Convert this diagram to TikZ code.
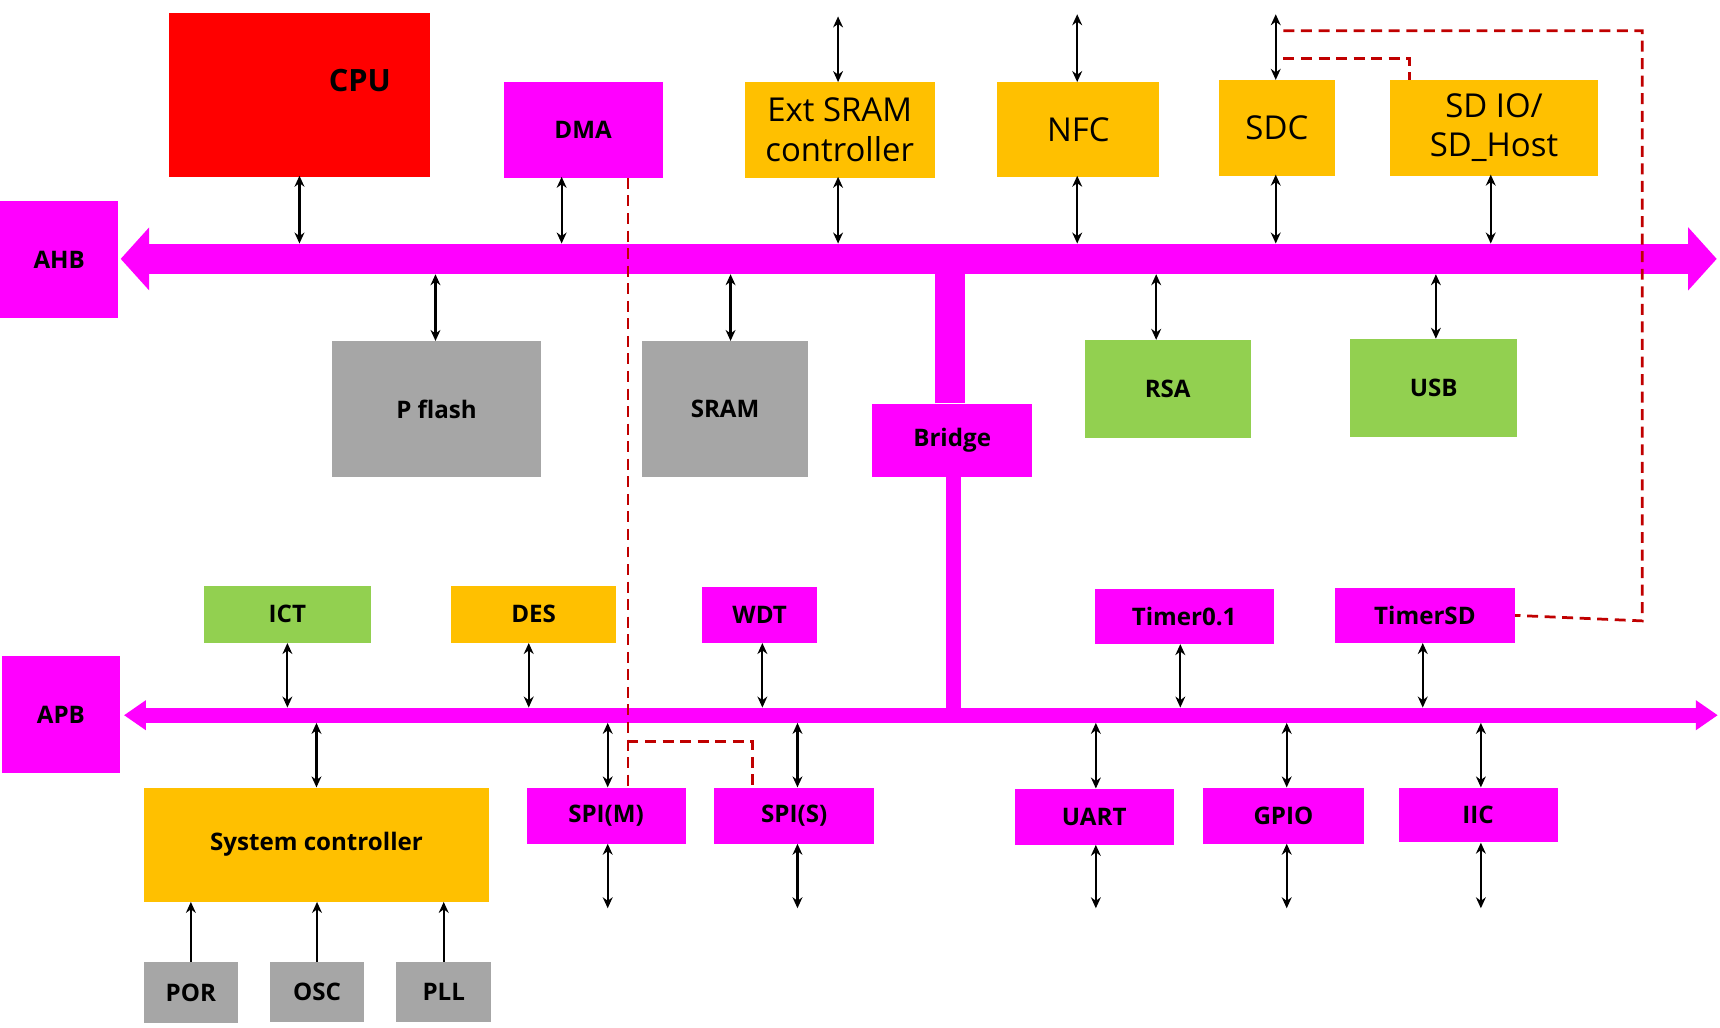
\documentclass[tikz,border=0pt]{standalone}
\usepackage{fontspec}
\setmainfont{Open Sans}
\usetikzlibrary{arrows.meta}
\definecolor{colorbus}   {RGB}{255,0,255}
\definecolor{colorctrl}  {RGB}{255,192,0}
\definecolor{colorperi}  {RGB}{146,208,80}
\definecolor{colormem}   {RGB}{166,166,166}
\definecolor{colorcpu}   {RGB}{255,0,0}
\definecolor{colordash}  {RGB}{192,0,0}
\begin{document}
\begin{tikzpicture}[
    x=1pt, y=-1pt,
    base/.style={inner sep=0pt,align=center,rectangle,font={\fontsize{22}{26}\selectfont\bfseries}},
    thin/.style={base,font={\fontsize{30}{36}\selectfont}},
    io/.style={{Stealth[length=10pt,width=9pt]}-{Stealth[length=10pt,width=9pt]},line width=2pt},
    feed/.style={-{Stealth[length=10pt,width=9pt]},line width=2pt},
    ahbbus/.style={{Triangle[width=56pt,length=26pt]}-{Triangle[width=56pt,length=26pt]},line width=28pt,colorbus},
    apbbus/.style={{Triangle[width=26pt,length=20pt]}-{Triangle[width=26pt,length=20pt]},line width=14pt,colorbus},
    sig/.style={colordash,line width=2.5pt,dash pattern=on 10pt off 6pt},
]
    \useasboundingbox (0,0) rectangle (1568,937);

    % Buses
    \coordinate (ahbl) at (110,236);
    \coordinate (ahbr) at (1565,236);
    \coordinate (ahbt) at (0,222);
    \coordinate (ahbb) at (0,250);
    \coordinate (apbl) at (113,652);
    \coordinate (apbr) at (1566,652);
    \coordinate (apbt) at (0,645);
    \coordinate (apbb) at (0,659);
    \draw[ahbbus] (ahbl) -- (ahbr);
    \draw[apbbus] (apbl) -- (apbr);
    \node[base,fill=colorbus,minimum width=108,minimum height=107] (ahb) at (54,236.5) {AHB};
    \node[base,fill=colorbus,minimum width=107,minimum height=107] (apb) at (55.5,651.5) {APB};

    % AHB masters and slaves
    \node[base,fill=colorcpu,minimum width=238,minimum height=149] (cpu) at (273,86.5) {};
    \node[base,font={\fontsize{28}{32}\selectfont\bfseries}] (cputext) at (328,73) {CPU};
    \node[base,fill=colorbus,minimum width=145,minimum height=87] (dma) at (531.5,118.5) {DMA};
    \node[thin,fill=colorctrl,minimum width=173,minimum height=87] (extsram) at (765.5,118.5) {Ext SRAM\\controller};
    \node[thin,fill=colorctrl,minimum width=148,minimum height=86] (nfc) at (983,118) {NFC};
    \node[thin,fill=colorctrl,minimum width=106,minimum height=87] (sdc) at (1164,116.5) {SDC};
    \node[thin,fill=colorctrl,minimum width=190,minimum height=87] (sdhost) at (1362,116.5) {SD IO/\\SD\_Host};
    \node[base,fill=colormem,minimum width=190,minimum height=124] (pflash) at (398,373) {P flash};
    \node[base,fill=colormem,minimum width=152,minimum height=124] (sram) at (661,373) {SRAM};
    \node[base,fill=colorperi,minimum width=151,minimum height=89] (rsa) at (1064.5,354.5) {RSA};
    \node[base,fill=colorperi,minimum width=152,minimum height=89] (usb) at (1307,353.5) {USB};

    % Bridge
    \node[base,fill=colorbus,minimum width=146,minimum height=67] (bridge) at (868,401.5) {Bridge};
    \draw[colorbus,line width=28pt] ([xshift=-2pt]bridge.north) -- ([xshift=-2pt]bridge.north |- ahbl);
    \draw[colorbus,line width=14pt] ([xshift=1pt]bridge.south) -- ([xshift=1pt]bridge.south |- apbl);

    % APB peripherals
    \node[base,fill=colorperi,minimum width=152,minimum height=52] (ict) at (262,560) {ICT};
    \node[base,fill=colorctrl,minimum width=151,minimum height=52] (des) at (486.5,560) {DES};
    \node[base,fill=colorbus,minimum width=105,minimum height=51] (wdt) at (692.5,560.5) {WDT};
    \node[base,fill=colorbus,minimum width=163,minimum height=50] (timer) at (1079.5,562) {Timer0.1};
    \node[base,fill=colorbus,minimum width=164,minimum height=50] (timersd) at (1299,561) {TimerSD};
    \node[base,fill=colorctrl,minimum width=315,minimum height=104] (sysctrl) at (288.5,770) {System controller};
    \node[base,fill=colorbus,minimum width=145,minimum height=51] (spim) at (552.5,743.5) {SPI(M)};
    \node[base,fill=colorbus,minimum width=146,minimum height=51] (spis) at (724,743.5) {SPI(S)};
    \node[base,fill=colorbus,minimum width=145,minimum height=51] (uart) at (997.5,744.5) {UART};
    \node[base,fill=colorbus,minimum width=146,minimum height=51] (gpio) at (1170,743.5) {GPIO};
    \node[base,fill=colorbus,minimum width=145,minimum height=50] (iic) at (1347.5,743) {IIC};
    \node[base,fill=colormem,minimum width=86,minimum height=56] (por) at (174,905) {POR};
    \node[base,fill=colormem,minimum width=86,minimum height=55] (osc) at (289,904.5) {OSC};
    \node[base,fill=colormem,minimum width=87,minimum height=55] (pll) at (404.5,904.5) {PLL};

    % Free ends
    \coordinate (extout) at (764,15);
    \coordinate (nfcout) at (982,13);
    \coordinate (sdcout) at (1163,13);
    \coordinate (spimout) at (554,828);
    \coordinate (spisout) at (727,828);
    \coordinate (uartout) at (999,828);
    \coordinate (gpioout) at (1173,828);
    \coordinate (iicout) at (1350,828);

    % AHB connections
    \draw[io] ([yshift=1pt]cpu.south) -- (cpu.south |- ahbt);
    \draw[io] ([xshift=-19.5pt,yshift=1pt]dma.south) -- ([xshift=-19.5pt]dma.south |- ahbt);
    \draw[io] ([xshift=-1.5pt,yshift=1pt]extsram.south) -- ([xshift=-1.5pt]extsram.south |- ahbt);
    \draw[io] ([xshift=-1.5pt]extsram.north) -- (extout);
    \draw[io] ([xshift=-1pt,yshift=1pt]nfc.south) -- ([xshift=-1pt]nfc.south |- ahbt);
    \draw[io] ([xshift=-1pt]nfc.north) -- (nfcout);
    \draw[io] ([xshift=-1pt,yshift=1pt]sdc.south) -- ([xshift=-1pt]sdc.south |- ahbt);
    \draw[io] ([xshift=-1pt]sdc.north) -- (sdcout);
    \draw[io] ([xshift=-3pt,yshift=1pt]sdhost.south) -- ([xshift=-3pt]sdhost.south |- ahbt);
    \draw[io] ([xshift=-1pt]pflash.north |- ahbb) -- ([xshift=-1pt]pflash.north);
    \draw[io] ([xshift=5pt]sram.north |- ahbb) -- ([xshift=5pt]sram.north);
    \draw[io] ([xshift=-10.5pt]rsa.north |- ahbb) -- ([xshift=-10.5pt]rsa.north);
    \draw[io] ([xshift=2pt]usb.north |- ahbb) -- ([xshift=2pt]usb.north);

    % APB connections
    \draw[io] (ict.south) -- (ict.south |- apbt);
    \draw[io] ([xshift=-4.5pt]des.south) -- ([xshift=-4.5pt]des.south |- apbt);
    \draw[io] ([xshift=2.5pt]wdt.south) -- ([xshift=2.5pt]wdt.south |- apbt);
    \draw[io] ([xshift=-3.5pt]timer.south) -- ([xshift=-3.5pt]timer.south |- apbt);
    \draw[io] ([xshift=-2pt]timersd.south) -- ([xshift=-2pt]timersd.south |- apbt);
    \draw[io] (sysctrl.north |- apbb) -- (sysctrl.north);
    \draw[io] ([xshift=1.5pt]spim.north |- apbb) -- ([xshift=1.5pt]spim.north);
    \draw[io] ([xshift=3pt]spis.north |- apbb) -- ([xshift=3pt]spis.north);
    \draw[io] ([xshift=1.5pt]uart.north |- apbb) -- ([xshift=1.5pt]uart.north);
    \draw[io] ([xshift=3pt]gpio.north |- apbb) -- ([xshift=3pt]gpio.north);
    \draw[io] ([xshift=2.5pt]iic.north |- apbb) -- ([xshift=2.5pt]iic.north);
    \draw[io] (spim.south -| spimout) -- (spimout);
    \draw[io] (spis.south -| spisout) -- (spisout);
    \draw[io] (uart.south -| uartout) -- (uartout);
    \draw[io] (gpio.south -| gpioout) -- (gpioout);
    \draw[io] (iic.south -| iicout) -- (iicout);
    \draw[feed] (por.north) -- (por.north |- sysctrl.south);
    \draw[feed] (osc.north) -- (osc.north |- sysctrl.south);
    \draw[feed] (pll.north) -- (pll.north |- sysctrl.south);

    % Dashed signals
    \draw[sig] ([xshift=41pt]dma.south) -- ([xshift=41pt]dma.south |- spim.north);
    \draw[sig] (572,676) -| ([xshift=-38pt]spis.north);
    \draw[sig] (1170,28) -| (1497,566) -- (timersd.east);
    \draw[sig] (1170,53) -| ([xshift=-77pt]sdhost.north);
\end{tikzpicture}
\end{document}
